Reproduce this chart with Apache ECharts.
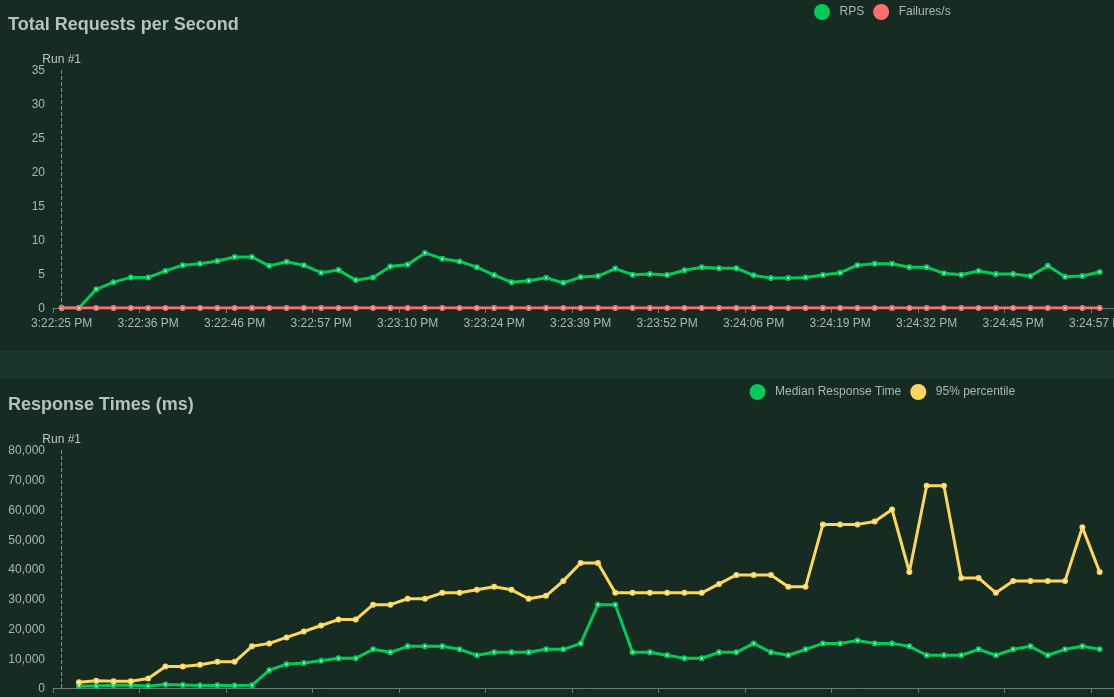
<!DOCTYPE html>
<html>
<head>
<meta charset="utf-8">
<title>Locust charts</title>
<script src="https://cdn.jsdelivr.net/npm/echarts@6/dist/echarts.min.js"></script>
<style>
  html, body { margin: 0; padding: 0; width: 1114px; height: 697px; overflow: hidden; background: #1a3429; }
  .chart { position: absolute; left: 0; width: 1140px; height: 349px; background: #162b22; }
  #rpsChart { top: 0; border-bottom: 1px solid #14261e; }
  #timeChart { top: 380px; height: 350px; }
  #gapLine { position: absolute; left: 0; top: 379px; width: 1114px; height: 1px; background: #14261e; }
</style>
</head>
<body>
<div id="rpsChart" class="chart"></div>
<div id="gapLine"></div>
<div id="timeChart" class="chart"></div>
<script>
// one label every 5 samples
var tickLabels = ['3:22:25 PM', '3:22:36 PM', '3:22:46 PM', '3:22:57 PM', '3:23:10 PM', '3:23:24 PM', '3:23:39 PM',
  '3:23:52 PM', '3:24:06 PM', '3:24:19 PM', '3:24:32 PM', '3:24:45 PM', '3:24:57 PM'];

var rps = [0, 0, 2.75, 3.8, 4.5, 4.5, 5.45, 6.3, 6.5, 6.9, 7.5, 7.5, 6.2, 6.8, 6.3, 5.2, 5.6, 4.1, 4.5, 6.1,
  6.4, 8.1, 7.25, 6.85, 6.0, 4.85, 3.8, 4.0, 4.45, 3.7, 4.55, 4.7, 5.8, 4.9, 5.0, 4.85, 5.55, 6.0, 5.85, 5.85,
  4.8, 4.4, 4.4, 4.5, 4.85, 5.2, 6.3, 6.5, 6.5, 6.0, 6.0, 5.1, 4.9, 5.45, 5.0, 5.0, 4.7, 6.2, 4.6, 4.7, 5.3];
var failures = [0, 0, 0, 0, 0, 0, 0, 0, 0, 0, 0, 0, 0, 0, 0, 0, 0, 0, 0, 0,
  0, 0, 0, 0, 0, 0, 0, 0, 0, 0, 0, 0, 0, 0, 0, 0, 0, 0, 0, 0,
  0, 0, 0, 0, 0, 0, 0, 0, 0, 0, 0, 0, 0, 0, 0, 0, 0, 0, 0, 0, 0];
var median = [null, 700, 700, 900, 900, 700, 1200, 1000, 800, 900, 800, 900, 6000, 8000, 8400, 9200, 10000, 10000, 13000, 12000,
  14000, 14000, 14000, 13000, 11000, 12000, 12000, 12000, 13000, 13000, 15000, 28000, 28000, 12000, 12000, 11000, 10000, 10000, 12000, 12000,
  15000, 12000, 11000, 13000, 15000, 15000, 16000, 15000, 15000, 14000, 11000, 11000, 11000, 13000, 11000, 13000, 14000, 11000, 13000, 14000, 13000];
var p95 = [null, 1900, 2400, 2300, 2300, 3200, 7200, 7200, 7800, 8800, 8800, 14000, 15000, 17000, 19000, 21000, 23000, 23000, 28000, 28000,
  30000, 30000, 32000, 32000, 33000, 34000, 33000, 30000, 31000, 36000, 42000, 42000, 32000, 32000, 32000, 32000, 32000, 32000, 35000, 38000,
  38000, 38000, 34000, 34000, 55000, 55000, 55000, 56000, 60000, 39000, 68000, 68000, 37000, 37000, 32000, 36000, 36000, 36000, 36000, 54000, 39000];

var GREEN = '#00ca5a', RED = '#ff6d6d', YELLOW = '#ffd65c';
var TEXT = '#a9b9b1';

var categories = [];
for (var i = 0; i < 62; i++) {
  categories.push(i % 5 == 0 && tickLabels[i / 5] ? tickLabels[i / 5] : '');
}

function lineSeries(name, data, color, withRun) {
  var s = {
    name: name,
    type: 'line',
    data: data,
    symbol: 'emptyCircle',
    symbolSize: 4,
    lineStyle: { width: 3, color: color },
    itemStyle: { color: color, borderColor: color, borderWidth: 2 }
  };
  if (withRun) {
    s.markLine = {
      silent: true,
      symbol: 'none',
      animation: false,
      data: [{ xAxis: 0 }],
      lineStyle: { color: '#7d8e86', type: 'dashed', width: 1 },
      label: { position: 'end', formatter: 'Run #1', color: '#bcc9c2', fontSize: 12, distance: 4 }
    };
  }
  return s;
}

function makeChart(id, title, legendLeft, legendGap, yMax, yStep, series) {
  var chart = echarts.init(document.getElementById(id));
  chart.setOption({
    animation: false,
    backgroundColor: 'transparent',
    title: { text: title, left: 8, top: 16, padding: 0, textStyle: { color: '#b4c3bb', fontSize: 18, fontWeight: 'bold', fontFamily: 'Liberation Sans' } },
    legend: {
      left: legendLeft,
      top: -1,
      icon: 'circle',
      itemGap: legendGap,
      textStyle: { color: TEXT, fontSize: 12, fontFamily: 'Liberation Sans' }
    },
    grid: { left: 53, top: 70, width: 1072.6, height: 238 },
    xAxis: {
      type: 'category',
      data: categories,
      axisLine: { lineStyle: { color: '#6c7c75' } },
      axisTick: { show: true, interval: 4, lineStyle: { color: '#6c7c75' } },
      axisLabel: { interval: 4, margin: 10, color: TEXT, fontSize: 12, fontFamily: 'Liberation Sans', hideOverlap: false }
    },
    yAxis: {
      type: 'value',
      min: 0,
      max: yMax,
      interval: yStep,
      splitLine: { show: false },
      axisLine: { show: false },
      axisTick: { show: false },
      axisLabel: {
        color: TEXT,
        fontSize: 12,
        fontFamily: 'Liberation Sans',
        // rich box nudges the numbers down a pixel
        formatter: function (v) { return '{v|' + v.toLocaleString('en-US') + '}'; },
        rich: { v: { color: TEXT, fontSize: 12, fontFamily: 'Liberation Sans', padding: [2, 0, 0, 0] } }
      }
    },
    series: series
  });
  return chart;
}

makeChart('rpsChart', 'Total Requests per Second', 809, 9, 35, 5, [
  lineSeries('RPS', rps, GREEN, true),
  lineSeries('Failures/s', failures, RED, false)
]);
makeChart('timeChart', 'Response Times (ms)', 744.5, 9, 80000, 10000, [
  lineSeries('Median Response Time', median, GREEN, true),
  lineSeries('95% percentile', p95, YELLOW, false)
]);
</script>
</body>
</html>
